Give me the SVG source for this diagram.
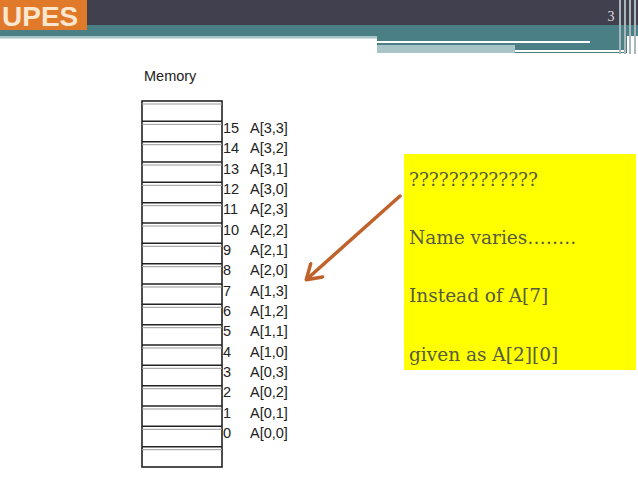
<svg xmlns="http://www.w3.org/2000/svg" width="638" height="479" viewBox="0 0 638 479">
<style>
.lbl{font-family:"Liberation Sans",Arial,sans-serif;font-size:14.5px;fill:#222}
.box{font-family:"DejaVu Serif","Liberation Serif",serif;font-size:18.5px;fill:#555a40}
.ln{stroke:#222;stroke-width:1.6}
.ln2{stroke:#999;stroke-width:1}
</style>
<defs>
<marker id="ah" markerWidth="20" markerHeight="20" refX="16" refY="10" orient="auto" markerUnits="userSpaceOnUse" viewBox="0 0 20 20">
<path d="M3,1 L17,10 L3,19" fill="none" stroke="#c0622b" stroke-width="3.5" stroke-linecap="round" stroke-linejoin="round"/>
</marker>
</defs>
<g id="header">
<rect x="0" y="0" width="638" height="26" fill="#40404f"/>
<rect x="0" y="25" width="638" height="11" fill="#4a7f85"/>
<rect x="0" y="36" width="377" height="2.5" fill="#a8c4c6"/>
<rect x="377" y="36" width="250" height="17" fill="#4a7f85"/>
<rect x="377" y="41" width="213" height="2" fill="#ffffff"/>
<rect x="377" y="45" width="138" height="8" fill="#a8c4c6"/>
<rect x="515" y="50" width="110" height="2" fill="#ffffff"/>
<rect x="619" y="0" width="2" height="54" fill="#a8b8ba"/>
<rect x="624" y="0" width="2" height="54" fill="#a8b8ba"/>
<rect x="629" y="0" width="2" height="54" fill="#a8b8ba"/>
<rect x="634" y="0" width="2" height="54" fill="#a8b8ba"/>
<rect x="0" y="0" width="87" height="30" fill="#e07a2a"/>
<text x="2" y="26" font-family="'Liberation Sans',Arial,sans-serif" font-size="28" font-weight="bold" fill="#fbe7cf">UPES</text>
<text x="611" y="21" font-family="'Liberation Serif',serif" font-size="14" fill="#dddddd" text-anchor="middle">3</text>
</g>
<g id="title"><text x="144" y="81" class="lbl" font-size="16">Memory</text></g>
<g id="memory">
<rect x="142" y="101" width="80" height="366" fill="none" stroke="#222" stroke-width="1.6"/>
<g id="rows">
<line class="ln" x1="142" y1="121.3" x2="222" y2="121.3"/><line class="ln" x1="142" y1="141.7" x2="222" y2="141.7"/><line class="ln" x1="142" y1="162" x2="222" y2="162"/><line class="ln" x1="142" y1="182.3" x2="222" y2="182.3"/><line class="ln" x1="142" y1="202.7" x2="222" y2="202.7"/><line class="ln" x1="142" y1="223" x2="222" y2="223"/><line class="ln" x1="142" y1="243.3" x2="222" y2="243.3"/><line class="ln" x1="142" y1="263.7" x2="222" y2="263.7"/><line class="ln" x1="142" y1="284" x2="222" y2="284"/><line class="ln" x1="142" y1="304.3" x2="222" y2="304.3"/><line class="ln" x1="142" y1="324.7" x2="222" y2="324.7"/><line class="ln" x1="142" y1="345" x2="222" y2="345"/><line class="ln" x1="142" y1="365.3" x2="222" y2="365.3"/><line class="ln" x1="142" y1="385.7" x2="222" y2="385.7"/><line class="ln" x1="142" y1="406" x2="222" y2="406"/><line class="ln" x1="142" y1="426.3" x2="222" y2="426.3"/><line class="ln" x1="142" y1="446.7" x2="222" y2="446.7"/>
<line class="ln2" x1="142" y1="104" x2="222" y2="104"/><line class="ln2" x1="142" y1="124.3" x2="222" y2="124.3"/><line class="ln2" x1="142" y1="144.7" x2="222" y2="144.7"/><line class="ln2" x1="142" y1="165" x2="222" y2="165"/><line class="ln2" x1="142" y1="185.3" x2="222" y2="185.3"/><line class="ln2" x1="142" y1="205.7" x2="222" y2="205.7"/><line class="ln2" x1="142" y1="226" x2="222" y2="226"/><line class="ln2" x1="142" y1="246.3" x2="222" y2="246.3"/><line class="ln2" x1="142" y1="266.7" x2="222" y2="266.7"/><line class="ln2" x1="142" y1="287" x2="222" y2="287"/><line class="ln2" x1="142" y1="307.3" x2="222" y2="307.3"/><line class="ln2" x1="142" y1="327.7" x2="222" y2="327.7"/><line class="ln2" x1="142" y1="348" x2="222" y2="348"/><line class="ln2" x1="142" y1="368.3" x2="222" y2="368.3"/><line class="ln2" x1="142" y1="388.7" x2="222" y2="388.7"/><line class="ln2" x1="142" y1="409" x2="222" y2="409"/><line class="ln2" x1="142" y1="429.3" x2="222" y2="429.3"/><line class="ln2" x1="142" y1="449.7" x2="222" y2="449.7"/>
</g>
</g>
<g id="labels">
<text class="lbl" x="223" y="133">15</text><text class="lbl" x="250" y="133">A[3,3]</text>
<text class="lbl" x="223" y="153">14</text><text class="lbl" x="250" y="153">A[3,2]</text>
<text class="lbl" x="223" y="174">13</text><text class="lbl" x="250" y="174">A[3,1]</text>
<text class="lbl" x="223" y="194">12</text><text class="lbl" x="250" y="194">A[3,0]</text>
<text class="lbl" x="223" y="214">11</text><text class="lbl" x="250" y="214">A[2,3]</text>
<text class="lbl" x="223" y="235">10</text><text class="lbl" x="250" y="235">A[2,2]</text>
<text class="lbl" x="223" y="255">9</text><text class="lbl" x="250" y="255">A[2,1]</text>
<text class="lbl" x="223" y="275">8</text><text class="lbl" x="250" y="275">A[2,0]</text>
<text class="lbl" x="223" y="296">7</text><text class="lbl" x="250" y="296">A[1,3]</text>
<text class="lbl" x="223" y="316">6</text><text class="lbl" x="250" y="316">A[1,2]</text>
<text class="lbl" x="223" y="336">5</text><text class="lbl" x="250" y="336">A[1,1]</text>
<text class="lbl" x="223" y="357">4</text><text class="lbl" x="250" y="357">A[1,0]</text>
<text class="lbl" x="223" y="377">3</text><text class="lbl" x="250" y="377">A[0,3]</text>
<text class="lbl" x="223" y="397">2</text><text class="lbl" x="250" y="397">A[0,2]</text>
<text class="lbl" x="223" y="418">1</text><text class="lbl" x="250" y="418">A[0,1]</text>
<text class="lbl" x="223" y="438">0</text><text class="lbl" x="250" y="438">A[0,0]</text>
</g>
<g id="note">
<rect x="404" y="154" width="232" height="216" fill="#ffff00"/>
<text class="box" x="409" y="186">?????????????</text>
<text class="box" x="409" y="244">Name varies……..</text>
<text class="box" x="409" y="302">Instead of A[7]</text>
<text class="box" x="409" y="361">given as A[2][0]</text>
</g>
<g id="connectors">
<line x1="400" y1="196" x2="307" y2="279" stroke="#c0622b" stroke-width="3.5" stroke-linecap="round" marker-end="url(#ah)"/>
</g>
</svg>
